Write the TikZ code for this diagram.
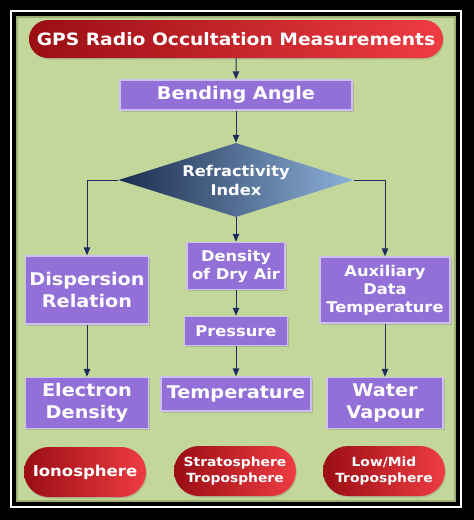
\documentclass[tikz,border=0pt]{standalone}
\usepackage{fontspec}
\setmainfont{DejaVu Sans}[FakeStretch=1.1]
\usetikzlibrary{arrows.meta, positioning, shapes.geometric, shapes.misc, shadows}

\definecolor{bgGreen}{HTML}{C4D79B}
\definecolor{edgeGreen}{HTML}{9DAF77}
\definecolor{boxPurple}{HTML}{9370D8}
\definecolor{boxRim}{HTML}{CDBFF0}
\definecolor{pillDark}{HTML}{9A0E14}
\definecolor{pillLight}{HTML}{EE3C42}
\definecolor{diaDark}{HTML}{1A2D4E}
\definecolor{diaLight}{HTML}{8DB1D9}
\definecolor{lineNavy}{HTML}{1E2C5C}

\begin{document}
\begin{tikzpicture}[
    x=1pt, y=-1pt,
    >={Triangle[length=8pt, width=6.5pt]},
    procbox/.style={rectangle, fill=boxPurple, draw=boxRim, line width=1.5pt,
        text=white, align=center, inner sep=2pt,
        drop shadow={opacity=0.35, shadow xshift=1.5pt, shadow yshift=-1.5pt}},
    regionpill/.style={rounded rectangle, left color=pillDark, right color=pillLight,
        draw=none, text=white, align=center, inner sep=2pt,
        drop shadow={opacity=0.3, shadow xshift=1pt, shadow yshift=-1.5pt}},
    decision/.style={diamond, left color=diaDark, right color=diaLight,
        draw=none, text=white, align=center, inner sep=0pt, aspect=3.2},
    flowarrow/.style={->, draw=lineNavy, line width=1pt}
]

% --- Hintergrund und Rahmen ---
\useasboundingbox (0,0) rectangle (474,520);
\fill[black] (0,0) rectangle (474,520);
\draw[white, line width=2pt] (11,11) rectangle (461,507);
\fill[bgGreen] (16,16) rectangle (456,502);
\draw[edgeGreen, line width=2pt] (17,17) rectangle (455,501);

% --- Spalten ---
\def\colL{87}    % linke Spalte
\def\colM{236}   % mittlere Spalte
\def\colR{385}   % rechte Spalte

% --- Oberer Teil ---
\node[regionpill, minimum width=418pt, minimum height=38pt,
      font=\fontsize{17}{20}\selectfont\bfseries] (gps) at (\colM,39)
      {GPS Radio Occultation Measurements};
\node[procbox, minimum width=232pt, minimum height=30pt,
      font=\fontsize{17.5}{20}\selectfont\bfseries] (bend) at (\colM,95) {Bending Angle};
\node[decision, minimum width=235pt, minimum height=74pt,
      font=\fontsize{14.8}{19}\selectfont\bfseries] (refr) at (\colM,180) {Refractivity\\Index};

% --- Mittlere Boxen ---
\node[procbox, minimum width=123pt, minimum height=68pt,
      font=\fontsize{17.5}{22}\selectfont\bfseries] (disp) at (\colL,290) {Dispersion\\Relation};
\node[procbox, minimum width=98pt, minimum height=47pt,
      font=\fontsize{14.8}{18}\selectfont\bfseries] (dens) at (\colM,266) {Density\\of Dry Air};
\node[procbox, minimum width=103pt, minimum height=29pt,
      font=\fontsize{14.8}{18}\selectfont\bfseries] (pres) at (\colM,331) {Pressure};
\node[procbox, minimum width=130pt, minimum height=66pt,
      font=\fontsize{14.8}{18}\selectfont\bfseries] (aux) at (\colR,290) {Auxiliary\\Data\\Temperature};

% --- Ergebnisse ---
\node[procbox, minimum width=123pt, minimum height=51pt,
      font=\fontsize{17.5}{22}\selectfont\bfseries] (elec) at (\colL,403) {Electron\\Density};
\node[procbox, minimum width=150pt, minimum height=34pt,
      font=\fontsize{17.5}{22}\selectfont\bfseries] (temp) at (\colM,394) {Temperature};
\node[procbox, minimum width=116pt, minimum height=51pt,
      font=\fontsize{17.5}{22}\selectfont\bfseries] (water) at (\colR,403) {Water\\Vapour};

% --- Atmosphaerenschichten ---
\node[regionpill, minimum width=126pt, minimum height=50pt,
      font=\fontsize{15}{17}\selectfont\bfseries] (iono) at (85,472) {Ionosphere};
\node[regionpill, minimum width=126pt, minimum height=50pt,
      font=\fontsize{12.6}{16}\selectfont\bfseries] (strat) at (235,471) {Stratosphere\\Troposphere};
\node[regionpill, minimum width=126pt, minimum height=50pt,
      font=\fontsize{12.6}{16}\selectfont\bfseries] (lowmid) at (384,471) {Low/Mid\\Troposphere};

% --- Pfeile ---
\draw[flowarrow] (gps) -- (bend);
\draw[flowarrow] (bend) -- (refr);
\draw[flowarrow] (refr.west) -| (disp.north);
\draw[flowarrow] (refr.east) -| (aux.north);
\draw[flowarrow] (refr.south) -- (dens.north);
\draw[flowarrow] (dens) -- (pres);
\draw[flowarrow] (pres) -- (temp);
\draw[flowarrow] (disp) -- (elec);
\draw[flowarrow] (aux) -- (water);

\end{tikzpicture}
\end{document}
